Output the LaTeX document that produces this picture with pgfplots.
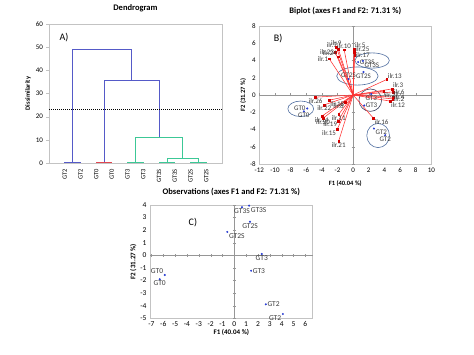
\documentclass[border=0pt]{standalone}
\usepackage{fontspec}
\setmainfont{Carlito}
\usepackage{pgfplots}
\usepackage{pgfplotstable}
\pgfplotsset{compat=1.18}
\definecolor{dblue}{RGB}{85,90,200}
\definecolor{dred}{RGB}{225,70,80}
\definecolor{dgreen}{RGB}{60,200,150}
\definecolor{framegray}{RGB}{195,195,195}
\definecolor{axgray}{RGB}{150,150,150}
\definecolor{obsblue}{RGB}{40,60,210}
\definecolor{ellblue}{RGB}{80,110,160}
\definecolor{elldark}{RGB}{60,65,95}
\definecolor{vecred}{RGB}{255,50,50}
\definecolor{ptred}{RGB}{215,0,0}
\definecolor{labgray}{RGB}{60,60,60}

\pgfplotsset{
  vecline/.style={vecred, line width=0.55pt},
  ilrpt/.style={only marks, mark=square*, mark size=0.9pt, color=ptred,
    every node near coord/.append style={font=\fontsize{7}{7.5}\selectfont, text=labgray, inner sep=1pt}},
  obsptB/.style={only marks, mark=*, mark size=0.8pt, color=obsblue,
    every node near coord/.append style={font=\fontsize{7}{7.5}\selectfont, text=labgray, inner sep=1.5pt}},
  obsptC/.style={only marks, mark=*, mark size=0.8pt, color=obsblue,
    every node near coord/.append style={font=\fontsize{7.5}{8}\selectfont, text=labgray, inner sep=1.5pt}},
}

\pgfplotstableread[col sep=comma]{
x,y,lab,pos
-3.05,4.20,ilr.1,east
5.05,-0.45,ilr.2,west
4.95,0.70,ilr.3,south west
5.10,-0.25,ilr.4,west
0.10,5.35,ilr.5,south west
5.10,0.35,ilr.6,west
-1.90,5.35,ilr.7,south east
-1.05,-0.85,ilr.8,north east
-2.15,5.55,ilr.9,south
-1.15,5.25,ilr.10,south
-1.85,-2.25,ilr.11,north
4.70,-0.70,ilr.12,north west
4.30,1.80,ilr.13,south west
-4.00,-2.45,ilr.14,north
-2.05,-4.00,ilr.15,north east
2.60,-2.70,ilr.16,north west
0.20,4.60,ilr.17,west
-3.05,-0.60,ilr.18,north west
-1.90,-3.00,ilr.19,north east
-3.85,-2.70,ilr.20,north
-1.85,-5.35,ilr.21,north
-3.70,-1.15,ilr.22,north
-2.30,5.00,ilr.23,east
-1.95,4.45,ilr.24,south east
0.15,4.95,ilr.25,south west
-4.80,-0.25,ilr.26,north
3.90,0.45,ilr.27,north west
}\ilrtab

\pgfplotstableread[col sep=comma]{
x,y,lab,posB,posC
0.65,3.82,GT3S,west,north
1.25,3.95,GT3S,north west,north west
1.33,2.67,GT2S,north,north
-0.59,1.86,GT2S,south,north west
2.32,0.11,GT3,north,north
1.42,-1.22,GT3,west,west
-5.87,-1.56,GT0,east,south east
-6.30,-1.90,GT0,north,north
2.66,-3.89,GT2,north west,west
4.10,-4.66,GT2,north,north east
}\obstab

\newcommand\getrow[2]{%
  \pgfplotstablegetelem{#1}{x}\of#2\let\vx\pgfplotsretval
  \pgfplotstablegetelem{#1}{y}\of#2\let\vy\pgfplotsretval
  \pgfplotstablegetelem{#1}{lab}\of#2\let\vlab\pgfplotsretval}

\begin{document}
\begin{tikzpicture}
\path[use as bounding box] (0,0) rectangle (474pt,355pt);

% ---------------- Panel A: dendrogram
\begin{axis}[
  at={(49pt,192pt)}, anchor=south west,
  scale only axis, width=173pt, height=139pt,
  xmin=0, xmax=11, ymin=0, ymax=60,
  ytick={0,10,...,60},
  xtick={1,...,10},
  xticklabels={GT2,GT2,GT0,GT0,GT3,GT3,GT3S,GT3S,GT2S,GT2S},
  xticklabel style={rotate=90, anchor=east, font=\fontsize{6.5}{7}\selectfont},
  yticklabel style={font=\fontsize{7}{8}\selectfont},
  x tick style={draw=none},
  y tick style={draw=framegray},
  tick align=outside, tick pos=left,
  major tick length=2.5pt,
  axis line style={framegray},
  /pgf/number format/assume math mode=true,
  title={Dendrogram},
  title style={font=\bfseries\fontsize{8.5}{9}\selectfont, yshift=3pt},
  ylabel={Dissimilarity},
  ylabel style={font=\bfseries\fontsize{6.5}{7}\selectfont, yshift=-2pt},
]
\addplot[dblue, line width=0.9pt] coordinates {(1,0) (1,0.4) (2,0.4) (2,0)};
\addplot[dred, line width=0.9pt] coordinates {(3,0) (3,0.4) (4,0.4) (4,0)};
\addplot[dgreen, line width=0.9pt] coordinates {(5,0) (5,0.4) (6,0.4) (6,0)};
\addplot[dgreen, line width=0.9pt] coordinates {(7,0) (7,0.4) (8,0.4) (8,0)};
\addplot[dgreen, line width=0.9pt] coordinates {(9,0) (9,0.4) (10,0.4) (10,0)};
\addplot[dgreen, line width=0.9pt] coordinates {(7.5,0.4) (7.5,1.9) (9.5,1.9) (9.5,0.4)};
\addplot[dgreen, line width=0.9pt] coordinates {(5.5,0.4) (5.5,11.2) (8.5,11.2) (8.5,1.9)};
\addplot[dblue, line width=0.9pt] coordinates {(3.5,0.4) (3.5,35.5) (7,35.5) (7,11.2)};
\addplot[dblue, line width=0.9pt] coordinates {(1.5,0.4) (1.5,48.9) (5.25,48.9) (5.25,35.5)};
\addplot[black, densely dotted, line width=1pt] coordinates {(0,23.3) (11,23.3)};
\node[font=\fontsize{10}{11}\selectfont, anchor=west] at (axis cs:0.45,54) {A)};
\end{axis}

% ---------------- Panel B: biplot (frame + labels)
\begin{axis}[
  at={(259.3pt,191pt)}, anchor=south west,
  scale only axis, width=172pt, height=138pt,
  xmin=-12, xmax=10, ymin=-8, ymax=8,
  xtick={-12,-10,...,10}, ytick={-8,-6,...,8},
  major tick length=0pt,
  axis line style={framegray},
  ticklabel style={font=\fontsize{7}{8}\selectfont},
  /pgf/number format/assume math mode=true,
  title={Biplot (axes F1 and F2: 71.31 \%)},
  title style={font=\bfseries\fontsize{8.5}{9}\selectfont, yshift=2pt},
  xlabel={F1 (40.04 \%)},
  ylabel={F2 (31.27 \%)},
  label style={font=\bfseries\fontsize{6.5}{7}\selectfont},
  xlabel style={yshift=-1pt},
  ylabel style={yshift=-3pt},
]
\end{axis}
\begin{axis}[
  at={(259.3pt,191pt)}, anchor=south west,
  scale only axis, width=172pt, height=138pt,
  xmin=-12, xmax=10, ymin=-8, ymax=8,
  xtick={-12,-10,...,10}, ytick={-8,-6,...,8},
  axis lines=middle, axis line style={axgray, -},
  xticklabels={}, yticklabels={},
  tick style={axgray}, tick align=center, major tick length=3pt,
  clip=false,
]
\draw[ellblue, line width=0.6pt] (axis cs:2.43,4.0) ellipse [x radius=2.2, y radius=0.88];
\draw[ellblue, line width=0.6pt] (axis cs:0.55,2.2) ellipse [x radius=2.65, y radius=1.05];
\draw[elldark, line width=0.6pt] (axis cs:2.2,-0.6) ellipse [x radius=1.45, y radius=1.3];
\draw[ellblue, line width=0.6pt] (axis cs:-6.7,-1.6) ellipse [x radius=1.65, y radius=0.9];
\draw[ellblue, line width=0.6pt] (axis cs:3.2,-4.7) ellipse [x radius=1.45, y radius=1.4];
\pgfplotsinvokeforeach{0,...,26}{%
  \getrow{#1}{\ilrtab}%
  \edef\tmpplot{\noexpand\addplot[vecline] coordinates {(0,0) (\vx,\vy)};}%
  \tmpplot
}
\pgfplotsinvokeforeach{0,...,26}{%
  \getrow{#1}{\ilrtab}%
  \pgfplotstablegetelem{#1}{pos}\of\ilrtab\let\vpos\pgfplotsretval
  \edef\tmpplot{\noexpand\addplot[ilrpt, nodes near coords={\vlab},
     every node near coord/.append style={anchor=\vpos}] coordinates {(\vx,\vy)};}%
  \tmpplot
}
\pgfplotsinvokeforeach{0,...,9}{%
  \getrow{#1}{\obstab}%
  \pgfplotstablegetelem{#1}{posB}\of\obstab\let\vpos\pgfplotsretval
  \edef\tmpplot{\noexpand\addplot[obsptB, nodes near coords={\vlab},
     every node near coord/.append style={anchor=\vpos}] coordinates {(\vx,\vy)};}%
  \tmpplot
}
\node[font=\fontsize{10}{11}\selectfont] at (axis cs:-9.6,6.6) {B)};
\end{axis}

% ---------------- Panel C: observations (frame + labels)
\begin{axis}[
  at={(150pt,36.7pt)}, anchor=south west,
  scale only axis, width=162.7pt, height=113.3pt,
  xmin=-7.12, xmax=6.62, ymin=-5, ymax=4,
  xtick={-7,-6,...,6}, ytick={-5,-4,...,4},
  major tick length=0pt,
  axis line style={framegray},
  ticklabel style={font=\fontsize{7.5}{8}\selectfont},
  /pgf/number format/assume math mode=true,
  title={Observations (axes F1 and F2: 71.31 \%)},
  title style={font=\bfseries\fontsize{8.5}{9}\selectfont, yshift=0pt},
  xlabel={F1 (40.04 \%)},
  ylabel={F2 (31.27 \%)},
  label style={font=\bfseries\fontsize{7}{8}\selectfont},
  xlabel style={yshift=5pt},
  ylabel style={yshift=-3pt},
]
\end{axis}
\begin{axis}[
  at={(150pt,36.7pt)}, anchor=south west,
  scale only axis, width=162.7pt, height=113.3pt,
  xmin=-7.12, xmax=6.62, ymin=-5, ymax=4,
  xtick={-7,-6,...,6}, ytick={-5,-4,...,4},
  axis lines=middle, axis line style={axgray, -},
  xticklabels={}, yticklabels={},
  tick style={axgray}, tick align=center, major tick length=3pt,
  clip=false,
]
\pgfplotsinvokeforeach{0,...,9}{%
  \getrow{#1}{\obstab}%
  \pgfplotstablegetelem{#1}{posC}\of\obstab\let\vpos\pgfplotsretval
  \edef\tmpplot{\noexpand\addplot[obsptC, nodes near coords={\vlab},
     every node near coord/.append style={anchor=\vpos}] coordinates {(\vx,\vy)};}%
  \tmpplot
}
\node[font=\fontsize{10}{11}\selectfont] at (axis cs:-3.5,2.6) {C)};
\end{axis}
\end{tikzpicture}
\end{document}
